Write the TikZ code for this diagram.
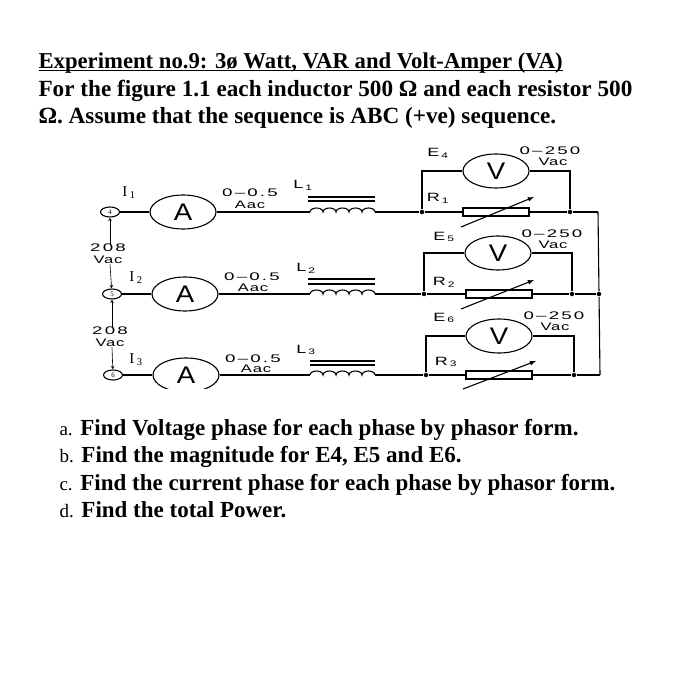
\documentclass[tikz,border=0pt]{standalone}
\usepackage{fontspec}
\setmainfont{Liberation Serif}
\newfontfamily\numberfont[FakeStretch=1.7,LetterSpace=20]{Liberation Sans}
\newfontfamily\unitfont[FakeStretch=1.5,LetterSpace=8]{Liberation Sans}
\newfontfamily\meterfont[FakeStretch=1.15]{Liberation Sans}
\usetikzlibrary{shapes.geometric}
\tikzset{
	meter/.style={draw, ellipse, minimum width=66pt, minimum height=34pt, inner sep=0pt, font=\meterfont\fontsize{24}{24}\selectfont},
	terminal/.style={draw, ellipse, minimum width=19pt, minimum height=10pt, inner sep=0pt, font=\fontsize{7}{7}\selectfont},
	dot/.style={circle, fill=black, minimum size=4.5pt, inner sep=0pt},
	rheostat/.style={draw, minimum width=66pt, minimum height=8pt, inner sep=0pt},
	scalelabel/.style={inner sep=0pt, font=\numberfont\fontsize{11}{11}\selectfont},
	unitlabel/.style={inner sep=0pt, font=\unitfont\fontsize{11}{11}\selectfont},
	namelabel/.style={inner sep=0pt, font=\unitfont\fontsize{12}{12}\selectfont},
	currentlabel/.style={inner sep=0pt, font=\fontsize{15}{15}\selectfont},
	textline/.style={anchor=base west, inner sep=0pt, font=\bfseries\fontsize{23.2}{23}\selectfont},
	taskline/.style={anchor=base west, inner sep=0pt, font=\bfseries\fontsize{23}{23}\selectfont},
	humps/.style={insert path={arc[start angle=180, end angle=360, x radius=6.5, y radius=4] arc[start angle=180, end angle=360, x radius=6.5, y radius=4] arc[start angle=180, end angle=360, x radius=6.5, y radius=4] arc[start angle=180, end angle=360, x radius=6.5, y radius=4] arc[start angle=180, end angle=360, x radius=6.5, y radius=4]}}
}
\newcommand{\taskmark}[1]{{\mdseries\fontsize{19}{19}\selectfont #1}}
\begin{document}
\begin{tikzpicture}[x=1pt, y=-1pt, line width=1.1pt]
\useasboundingbox (0, 0) rectangle (677, 700);

\node[textline, font=\bfseries\fontsize{22.7}{23}\selectfont] (title) at (38, 69) {\underline{\smash{Experiment no.9: 3ø Watt, VAR and Volt-Amper (VA)}}};
\node[textline] (line2) at (38, 97) {For the figure 1.1 each inductor 500 Ω and each resistor 500};
\node[textline] (line3) at (38, 124) {Ω. Assume that the sequence is ABC (+ve) sequence.};

\node[taskline] (taska) at (59, 435) {\taskmark{a.} Find Voltage phase for each phase by phasor form.};
\node[taskline] (taskb) at (59, 462) {\taskmark{b.} Find the magnitude for E4, E5 and E6.};
\node[taskline] (taskc) at (59, 490) {\taskmark{c.} Find the current phase for each phase by phasor form.};
\node[taskline] (taskd) at (59, 517) {\taskmark{d.} Find the total Power.};

\node[terminal] (t4) at (110, 212) {4};
\node[terminal] (t5) at (112, 294) {5};
\node[terminal] (t6) at (113, 375) {6};

\node[meter] (a1) at (183, 212) {A};
\node[meter] (a2) at (185, 294) {A};
\node[meter] (a3) at (186, 375) {A};

\coordinate (k1a) at (310, 212);
\coordinate (k2a) at (310, 294);
\coordinate (k3a) at (310, 375);
\coordinate (k1b) at (375, 212);
\coordinate (k2b) at (375, 294);
\coordinate (k3b) at (375, 375);

\coordinate (c1a) at (308, 197);
\coordinate (c1b) at (375, 197);
\coordinate (c1c) at (308, 201);
\coordinate (c1d) at (375, 201);
\coordinate (c2a) at (308, 279);
\coordinate (c2b) at (375, 279);
\coordinate (c2c) at (308, 284);
\coordinate (c2d) at (375, 284);
\coordinate (c3a) at (310, 361);
\coordinate (c3b) at (375, 361);
\coordinate (c3c) at (310, 365);
\coordinate (c3d) at (375, 365);

\node[dot] (j1l) at (422, 212) {};
\node[dot] (j2l) at (424, 294) {};
\node[dot] (j3l) at (426, 375) {};
\node[dot] (j1r) at (570, 212) {};
\node[dot] (j2r) at (572, 294) {};
\node[dot] (j3r) at (574, 375) {};
\node[dot] (b2) at (599, 294) {};
\coordinate (b1) at (598, 212);
\coordinate (b3) at (600, 375);

\node[rheostat] (r1) at (496, 212) {};
\node[rheostat] (r2) at (499, 294) {};
\node[rheostat] (r3) at (499, 375) {};

\node[meter] (v1) at (496, 171) {V};
\node[meter] (v2) at (498, 253) {V};
\node[meter] (v3) at (499, 336) {V};

\coordinate (s1a) at (461, 227);
\coordinate (s1b) at (534, 197);
\coordinate (s2a) at (461, 309);
\coordinate (s2b) at (534, 280);
\coordinate (s3a) at (463, 389);
\coordinate (s3b) at (536, 361);

\node[currentlabel] (i1) at (129, 193) {I\,\textsubscript{1}};
\node[currentlabel] (i2) at (136, 278) {I\,\textsubscript{2}};
\node[currentlabel] (i3) at (136, 360) {I\,\textsubscript{3}};

\node[scalelabel] (v208a) at (108, 248) {208};
\node[unitlabel] (vac1) at (108, 260) {Vac};
\node[scalelabel] (v208b) at (110, 331) {208};
\node[unitlabel] (vac2) at (110, 343) {Vac};

\node[scalelabel] (s1) at (250, 193) {0–0.5};
\node[scalelabel] (s2) at (252, 277) {0–0.5};
\node[scalelabel] (s3) at (253, 359) {0–0.5};
\node[unitlabel] (aac1) at (250, 205) {Aac};
\node[unitlabel] (aac2) at (253, 288) {Aac};
\node[unitlabel] (aac3) at (256, 369) {Aac};

\node[namelabel] (l1) at (303, 185) {L\,\textsubscript{1}};
\node[namelabel] (l2) at (306, 268) {L\,\textsubscript{2}};
\node[namelabel] (l3) at (306, 350) {L\,\textsubscript{3}};

\node[namelabel] (e4) at (438, 153) {E\,\textsubscript{4}};
\node[namelabel] (e5) at (444, 237) {E\,\textsubscript{5}};
\node[namelabel] (e6) at (444, 318) {E\,\textsubscript{6}};
\node[namelabel] (n1) at (438, 198) {R\,\textsubscript{1}};
\node[namelabel] (n2) at (444, 282) {R\,\textsubscript{2}};
\node[namelabel] (n3) at (446, 362) {R\,\textsubscript{3}};

\node[scalelabel] (u1) at (550, 151) {0–250};
\node[scalelabel] (u2) at (552, 234) {0–250};
\node[scalelabel] (u3) at (554, 316) {0–250};
\node[unitlabel] (vac4) at (553, 162) {Vac};
\node[unitlabel] (vac5) at (553, 245) {Vac};
\node[unitlabel] (vac6) at (555, 327) {Vac};

\draw[-stealth, line width=0.6pt] (t4 |- v208a.north) -- (t4);
\draw[-stealth, line width=0.6pt] (t4 |- vac1.south) -- (t5);
\draw[-stealth, line width=0.6pt] (t5 |- v208b.north) -- (t5);
\draw[-stealth, line width=0.6pt] (t5 |- vac2.south) -- (t6);

\draw (t4) -- (a1);
\draw (t5) -- (a2);
\draw (t6) -- (a3);

\draw (a1) -- (k1a);
\draw (a2) -- (k2a);
\draw (a3) -- (k3a);

\draw (k1a) [humps];
\draw (k2a) [humps];
\draw (k3a) [humps];

\draw (c1a) -- (c1b);
\draw (c1c) -- (c1d);
\draw (c2a) -- (c2b);
\draw (c2c) -- (c2d);
\draw (c3a) -- (c3b);
\draw (c3c) -- (c3d);

\draw (k1b) -- (j1l);
\draw (k2b) -- (j2l);
\draw (k3b) -- (j3l);

\draw (j1l) -- (r1);
\draw (j2l) -- (r2);
\draw (j3l) -- (r3);
\draw (r1) -- (j1r);
\draw (r2) -- (j2r);
\draw (r3) -- (j3r);

\draw (j1r) -- (b1);
\draw (j2r) -- (b2);
\draw (j3r) -- (b3);
\draw (b1) -- (b2);
\draw (b2) -- (b3);

\draw (j1l) |- (v1);
\draw (j2l) |- (v2);
\draw (j3l) |- (v3);
\draw (j1r) |- (v1);
\draw (j2r) |- (v2);
\draw (j3r) |- (v3);

\draw[-latex] (s1a) -- (s1b);
\draw[-latex] (s2a) -- (s2b);
\draw[-latex] (s3a) -- (s3b);

\fill[white] (140, 388.5) rectangle (230, 400);
\end{tikzpicture}
\end{document}
